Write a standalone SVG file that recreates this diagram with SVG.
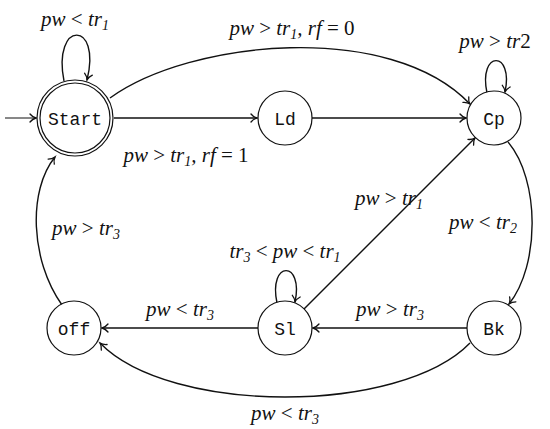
<svg xmlns="http://www.w3.org/2000/svg" width="550" height="429" viewBox="0 0 550 429">
<defs>
<marker id="arr" markerUnits="userSpaceOnUse" markerWidth="14" markerHeight="14" viewBox="-8 -7 10 14" refX="0" refY="0" orient="auto">
<path d="M -6,-4 C -4,-1.5 -1.5,-0.4 0,0 C -1.5,0.4 -4,1.5 -6,4" fill="none" stroke="#111" stroke-width="1.3" stroke-linecap="round"/>
</marker>
</defs>
<style>
.node circle{fill:#fff;stroke:#111;stroke-width:1.2}
.edge{fill:none;stroke:#111;stroke-width:1.4;marker-end:url(#arr)}
</style>
<g id="connectors">
<path class="edge" style="stroke-width:1" d="M 5,118 L 36,118"/>
<path class="edge" d="M 64,81 C 52,20 102,20 87,80"/>
<path class="edge" d="M 110,98 C 190,40 390,20 470,104"/>
<path class="edge" d="M 114,118 L 257,118"/>
<path class="edge" d="M 312,118 L 466,118"/>
<path class="edge" d="M 487,93 C 478,50 514,50 505,92"/>
<path class="edge" d="M 508,142 C 540,180 540,265 509,304"/>
<path class="edge" d="M 467,328 L 313,328"/>
<path class="edge" d="M 304,309 L 475,138"/>
<path class="edge" d="M 277,303 C 268,260 304,260 295,302"/>
<path class="edge" d="M 258,328 L 102,328"/>
<path class="edge" d="M 470,343 C 400,415 170,415 100,343"/>
<path class="edge" d="M 62,305 C 30,260 28,190 55,157"/>
</g>
<g id="labels" fill="#111">
<text x="75" y="26" font-family="Liberation Serif" font-style="italic" font-size="21" text-anchor="middle">pw <tspan font-style="normal">&lt;</tspan> tr<tspan font-size="14" dy="4">1</tspan></text>
<text x="292" y="35" font-family="Liberation Serif" font-style="italic" font-size="21" text-anchor="middle">pw <tspan font-style="normal">&gt;</tspan> tr<tspan font-size="14" dy="4">1</tspan><tspan dy="-4">, rf </tspan><tspan font-style="normal">= 0</tspan></text>
<text x="186" y="162" font-family="Liberation Serif" font-style="italic" font-size="21" text-anchor="middle">pw <tspan font-style="normal">&gt;</tspan> tr<tspan font-size="14" dy="4">1</tspan><tspan dy="-4">, rf </tspan><tspan font-style="normal">= 1</tspan></text>
<text x="495" y="48" font-family="Liberation Serif" font-style="italic" font-size="21" text-anchor="middle">pw <tspan font-style="normal">&gt;</tspan> tr<tspan font-style="normal">2</tspan></text>
<text x="389" y="205" font-family="Liberation Serif" font-style="italic" font-size="21" text-anchor="middle">pw <tspan font-style="normal">&gt;</tspan> tr<tspan font-size="14" dy="4">1</tspan></text>
<text x="483" y="229" font-family="Liberation Serif" font-style="italic" font-size="21" text-anchor="middle">pw <tspan font-style="normal">&lt;</tspan> tr<tspan font-size="14" dy="4">2</tspan></text>
<text x="285" y="258" font-family="Liberation Serif" font-style="italic" font-size="21" text-anchor="middle">tr<tspan font-size="14" dy="4">3</tspan><tspan dy="-4"> </tspan><tspan font-style="normal">&lt;</tspan> pw <tspan font-style="normal">&lt;</tspan> tr<tspan font-size="14" dy="4">1</tspan></text>
<text x="390" y="316" font-family="Liberation Serif" font-style="italic" font-size="21" text-anchor="middle">pw <tspan font-style="normal">&gt;</tspan> tr<tspan font-size="14" dy="4">3</tspan></text>
<text x="180" y="316" font-family="Liberation Serif" font-style="italic" font-size="21" text-anchor="middle">pw <tspan font-style="normal">&lt;</tspan> tr<tspan font-size="14" dy="4">3</tspan></text>
<text x="86" y="235" font-family="Liberation Serif" font-style="italic" font-size="21" text-anchor="middle">pw <tspan font-style="normal">&gt;</tspan> tr<tspan font-size="14" dy="4">3</tspan></text>
<text x="285" y="420" font-family="Liberation Serif" font-style="italic" font-size="21" text-anchor="middle">pw <tspan font-style="normal">&lt;</tspan> tr<tspan font-size="14" dy="4">3</tspan></text>
</g>
<g id="node-start" class="node">
<circle cx="75" cy="118" r="38"/>
<circle cx="75" cy="118" r="35"/>
<text font-family="Liberation Mono" font-size="18" text-anchor="middle" fill="#111" x="75" y="125">Start</text>
</g>
<g id="node-ld" class="node">
<circle cx="285" cy="118" r="27"/>
<text font-family="Liberation Mono" font-size="18" text-anchor="middle" fill="#111" x="285" y="125">Ld</text>
</g>
<g id="node-cp" class="node">
<circle cx="494" cy="118" r="27"/>
<text font-family="Liberation Mono" font-size="18" text-anchor="middle" fill="#111" x="494" y="125">Cp</text>
</g>
<g id="node-off" class="node">
<circle cx="74" cy="328" r="27"/>
<text font-family="Liberation Mono" font-size="18" text-anchor="middle" fill="#111" x="74" y="335">off</text>
</g>
<g id="node-sl" class="node">
<circle cx="285" cy="328" r="27"/>
<text font-family="Liberation Mono" font-size="18" text-anchor="middle" fill="#111" x="285" y="335">Sl</text>
</g>
<g id="node-bk" class="node">
<circle cx="494" cy="328" r="27"/>
<text font-family="Liberation Mono" font-size="18" text-anchor="middle" fill="#111" x="494" y="335">Bk</text>
</g>
</svg>
